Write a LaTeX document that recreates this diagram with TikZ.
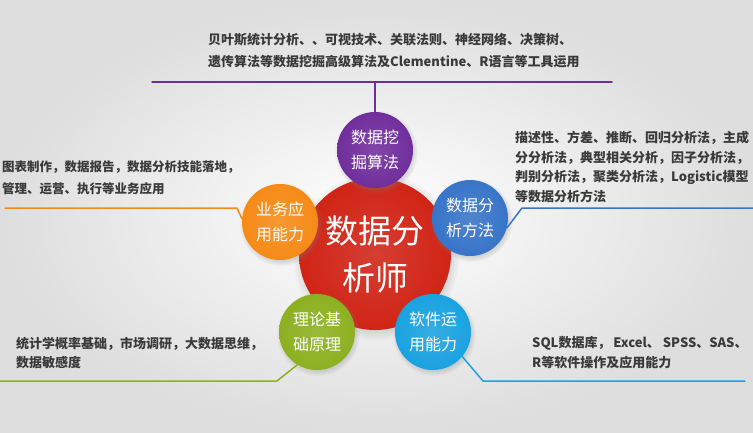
\documentclass[tikz,border=0pt]{standalone}
\usepackage{fontspec}
\setmainfont{Noto Sans CJK SC}
\usepackage{tikz}
\usetikzlibrary{positioning,calc,shadows}
\definecolor{redc}{RGB}{208,36,22}
\definecolor{purc}{RGB}{112,46,156}
\definecolor{orgc}{RGB}{246,138,22}
\definecolor{bluc}{RGB}{56,116,200}
\definecolor{grnc}{RGB}{140,176,32}
\definecolor{cync}{RGB}{26,162,224}
\definecolor{txtc}{RGB}{58,58,58}
\tikzset{
  ball/.style={circle, inner sep=0pt, minimum size=76pt, align=center,
    text=white, font=\fontsize{16}{25}\selectfont,
    inner color=#1!88!white, outer color=#1,
    circular drop shadow={shadow xshift=1pt, shadow yshift=-2pt, opacity=0.3}},
  hubball/.style={ball=redc, minimum size=152pt,
    font=\fontsize{33}{47}\selectfont},
  linkln/.style={line width=1.5pt, line cap=round, line join=round},
  desc/.style={anchor=north west, inner sep=0pt, align=left, text=txtc},
}
\newcommand{\descfont}[2]{\bfseries\fontsize{#1}{#2}\selectfont}

\begin{document}
\begin{tikzpicture}[x=1pt, y=-1pt]
  \useasboundingbox (0,0) rectangle (753,432);
  % soft grey backdrop
  \shade[inner color=white, outer color=black!13] (0,0) rectangle (753,432);
  % hub and its five balls
  \node[hubball] (hub) at (375,254) {数据分\\析师};
  \foreach \nm/\col/\pos/\lab in {
      mine/purc/{(375,150)}/{数据挖\\掘算法},
      biz/orgc/{(280,222)}/{业务应\\用能力},
      meth/bluc/{(470,218)}/{数据分\\析方法},
      theo/grnc/{(317,332)}/{理论基\\础原理},
      soft/cync/{(433,332)}/{软件运\\用能力}} {
    \node[ball=\col] (\nm) at \pos {\lab};
  }
  % descriptions
  \node[desc, font=\descfont{13}{22}] (mineTxt) at (208,33)
    {贝叶斯统计分析、、可视技术、关联法则、神经网络、决策树、\\
     遗传算法等数据挖掘高级算法及Clementine、R语言等工具运用};
  \node[desc, font=\descfont{12.5}{22}] (bizTxt) at (2,161)
    {图表制作，数据报告，数据分析技能落地，\\
     管理、运营、执行等业务应用};
  \node[desc, font=\descfont{13}{19.6}] (methTxt) at (515,131)
    {描述性、方差、推断、回归分析法，主成\\
     分分析法，典型相关分析，因子分析法，\\
     判别分析法，聚类分析法，Logistic模型\\
     等数据分析方法};
  \node[desc, font=\descfont{13}{19.5}] (theoTxt) at (16,337)
    {统计学概率基础，市场调研，大数据思维，\\
     数据敏感度};
  \node[desc, font=\descfont{13}{20}] (softTxt) at (532,336)
    {SQL数据库， Excel、 SPSS、SAS、\\
     R等软件操作及应用能力};
  % leader lines
  \coordinate (mineL) at (152,82);
  \coordinate (mineR) at (612,82);
  \coordinate (bizEnd) at (5,208);
  \coordinate (bizBend) at (237,208);
  \coordinate (methEnd) at (753,208);
  \coordinate (methBend) at (522,208);
  \coordinate (theoEnd) at (0,381);
  \coordinate (theoBend) at (277,381);
  \coordinate (softEnd) at (745,381);
  \coordinate (softBend) at (483,381);
  \draw[linkln, purc] (mineL) -- (mineR);
  \draw[linkln, purc] (mine.north) -- (mine.north |- mineL);
  \draw[linkln, orgc] (bizEnd) -- (bizBend) -- (biz.175);
  \draw[linkln, bluc] (methEnd) -- (methBend) -- (meth.-15);
  \draw[linkln, grnc] (theoEnd) -- (theoBend) -- (theo.239);
  \draw[linkln, cync] (softEnd) -- (softBend) -- (soft.-40);
\end{tikzpicture}
\end{document}
